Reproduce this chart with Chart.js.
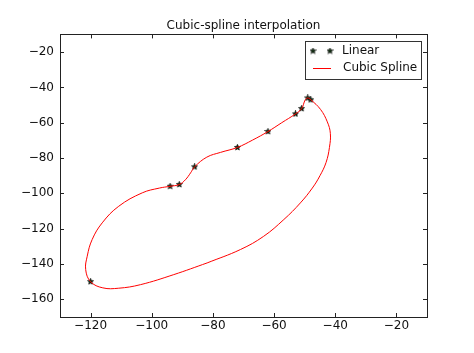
<!DOCTYPE html>
<html>
<head>
<meta charset="utf-8">
<script src="https://cdn.jsdelivr.net/npm/chart.js@4/dist/chart.umd.min.js"></script>
<style>
  html, body { margin: 0; padding: 0; background: #fff; }
  canvas { display: block; }
</style>
</head>
<body>
<canvas id="grafico" width="474" height="353"></canvas>
<script>
// pontos originais (marcadores estrela)
const pontosX = [-120, -94, -91, -86, -72, -62, -53, -51, -49, -48];
const pontosY = [-150, -96, -95, -85, -74, -65, -55, -52, -46, -47];

// curva fechada
const splineX = [-81.9, -92.8, -103.7, -110.8, -116, -120, -121.6, -121.1, -119.5, -116.2, -110.8, -103.1, -97.5, -94, -91, -89, -87.3, -86, -82, -77.5, -72, -67, -62, -57.5, -53, -51, -49.8, -49, -48, -44.8, -42.6, -41.6, -41.9, -43, -45, -47.5, -51.4, -56.8, -63.4, -71, -81.9];
const splineY = [-139.4, -146, -151.7, -153.7, -153.5, -150, -143.2, -135.6, -126.2, -116.7, -107.3, -99.7, -97, -96, -95, -92.3, -88.4, -85, -79.5, -76.8, -74, -69.8, -65, -60, -55, -52, -47, -46, -47, -52.5, -59.5, -66, -74, -82.5, -90, -97, -105.4, -114.8, -124.3, -131.8, -139.4];

const xTicks = [-120, -100, -80, -60, -40, -20];
const yTicks = [-160, -140, -120, -100, -80, -60, -40, -20];

const legendas = ["Linear", "Cubic Spline"];
const fonte = "'DejaVu Sans', sans-serif";

function makeStar(size, fill, stroke) {
    const c = document.createElement("canvas");
    c.width = size; c.height = size;
    const ctx = c.getContext("2d");
    const cx = size / 2, cy = size / 2, R = size / 2 - 0.3, r = R * 0.45;
    ctx.beginPath();
    for (let i = 0; i < 10; i++) {
        const a = -Math.PI / 2 + i * Math.PI / 5;
        const rad = i % 2 === 0 ? R : r;
        ctx.lineTo(cx + rad * Math.cos(a), cy + rad * Math.sin(a));
    }
    ctx.closePath();
    ctx.fillStyle = fill;
    ctx.fill();
    ctx.lineWidth = 0.6;
    ctx.strokeStyle = stroke;
    ctx.stroke();
    return c;
}
const estrela = makeStar(7, "#143214", "#000");

const fmt = (v) => String(v).replace("-", "\u2212");

const molduraPlugin = {
    id: "moldura",
    afterLayout(chart) {
        // centra o titulo sobre a area do grafico
        const t = chart.titleBlock;
        if (t) {
            t.left = chart.chartArea.left;
            t.right = chart.chartArea.right;
            t.width = t.right - t.left;
        }
    },
    afterDatasetsDraw(chart) {
        const {ctx, chartArea: a, scales: {x, y}} = chart;
        ctx.save();
        ctx.strokeStyle = "#222";
        ctx.lineWidth = 1;
        ctx.beginPath();
        const tl = 4;
        xTicks.forEach((v) => {
            const px = Math.round(x.getPixelForValue(v)) + 0.5;
            ctx.moveTo(px, a.bottom); ctx.lineTo(px, a.bottom - tl);
            ctx.moveTo(px, a.top); ctx.lineTo(px, a.top + tl);
        });
        yTicks.forEach((v) => {
            const py = Math.round(y.getPixelForValue(v)) + 0.5;
            ctx.moveTo(a.left, py); ctx.lineTo(a.left + tl, py);
            ctx.moveTo(a.right, py); ctx.lineTo(a.right - tl, py);
        });
        ctx.stroke();
        ctx.strokeRect(Math.round(a.left) + 0.5, Math.round(a.top) + 0.5,
            Math.round(a.right - a.left), Math.round(a.bottom - a.top));

        // legenda
        const bx = 305.5, by = 41.5, bw = 116, bh = 38;
        ctx.fillStyle = "#fff";
        ctx.fillRect(bx, by, bw, bh);
        ctx.strokeStyle = "#333";
        ctx.strokeRect(bx, by, bw, bh);
        const y1 = 51, y2 = 68;
        ctx.drawImage(estrela, 313 - 3.5, y1 - 3.5);
        ctx.drawImage(estrela, 330 - 3.5, y1 - 3.5);
        ctx.strokeStyle = "#ff0000";
        ctx.beginPath();
        ctx.moveTo(313, y2 + 0.5); ctx.lineTo(331, y2 + 0.5);
        ctx.stroke();
        ctx.fillStyle = "#111";
        ctx.font = "12px " + fonte;
        ctx.textBaseline = "middle";
        ctx.textAlign = "left";
        ctx.fillText(legendas[0], 342, y1);
        ctx.fillText(legendas[1], 343, y2);
        ctx.restore();
    },
};

function generateChart() {
    const info = {
        datasets: [
            {
                label: legendas[0],
                data: pontosX.map((v, i) => ({x: v, y: pontosY[i]})),
                pointStyle: estrela,
                showLine: false,
                order: 1,
            },
            {
                label: legendas[1],
                data: splineX.map((v, i) => ({x: v, y: splineY[i]})),
                showLine: true,
                borderColor: "#ff0000",
                borderWidth: 1,
                pointRadius: 0,
                tension: 0.4,
                fill: false,
                order: 0,
            },
        ],
    };
    const options = {
        responsive: false,
        animation: false,
        layout: {padding: {left: 0, right: 47, top: 19, bottom: 0}},
        scales: {
            x: {
                type: "linear",
                min: -130,
                max: -10,
                afterBuildTicks: (s) => { s.ticks = xTicks.map((v) => ({value: v})); },
                afterFit: (s) => { s.height = 36; },
                grid: {display: false, drawTicks: false},
                border: {display: false},
                ticks: {
                    padding: 2,
                    color: "#111",
                    font: {family: fonte, size: 12},
                    callback: fmt,
                    maxRotation: 0,
                },
            },
            y: {
                type: "linear",
                min: -170,
                max: -10,
                afterBuildTicks: (s) => { s.ticks = yTicks.map((v) => ({value: v})); },
                afterFit: (s) => { s.width = 60; },
                grid: {display: false, drawTicks: false},
                border: {display: false},
                ticks: {
                    padding: 6,
                    color: "#111",
                    font: {family: fonte, size: 12},
                    callback: fmt,
                },
            },
        },
        plugins: {
            legend: {display: false},
            tooltip: {enabled: false},
            title: {
                display: true,
                text: "Cubic-spline interpolation",
                color: "#111",
                font: {family: fonte, size: 12, weight: "normal"},
                padding: {top: 0, bottom: 1},
            },
        },
    };
    const config = {
        type: "scatter",
        data: info,
        options,
        plugins: [molduraPlugin],
    };
    const meuGrafico = new Chart(document.getElementById("grafico"), config);
}
generateChart();
</script>
</body>
</html>
